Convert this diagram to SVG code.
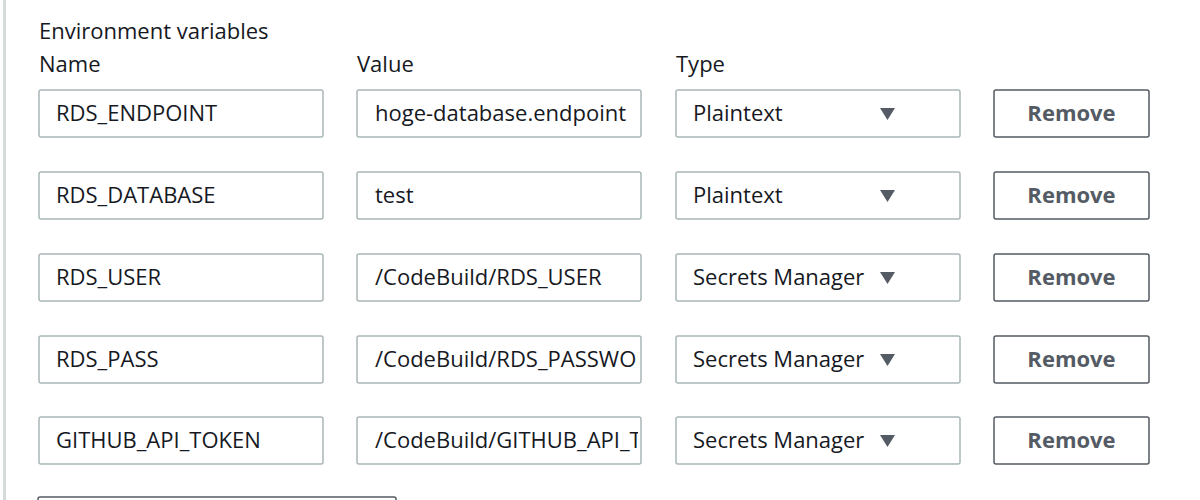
<svg xmlns="http://www.w3.org/2000/svg" width="1200" height="500" viewBox="0 0 1200 500">
<style>
text{font-family:"Open Sans","Noto Sans","Liberation Sans",sans-serif;font-size:22px;fill:#16191f}
.f{fill:#fff;stroke:#aab7b8;stroke-width:1.5}
.b{fill:#fff;stroke:#545b64;stroke-width:1.5}
.bt{font-weight:bold;fill:#545b64;text-anchor:middle}
.tri{fill:#545b64}
</style>
<defs>
<clipPath id="cv"><rect x="358" y="0" width="280" height="500"/></clipPath>
<g id="row">
<rect class="f" x="39" y="0" width="284" height="47" rx="2"/>
<rect class="f" x="357" y="0" width="284" height="47" rx="2"/>
<rect class="f" x="676" y="0" width="284" height="47" rx="2"/>
<path class="tri" d="M880 18 L895 18 L887.5 30 Z"/>
<rect class="b" x="994" y="0" width="155" height="47" rx="2"/>
<text class="bt" x="1071.5" y="31">Remove</text>
</g>
</defs>
<rect x="0" y="0" width="1200" height="500" fill="#fff"/>
<rect x="3" y="0" width="3" height="500" fill="#d5dbdb"/>
<text x="39" y="39">Environment variables</text>
<text x="39" y="72">Name</text>
<text x="357" y="72">Value</text>
<text x="676" y="72">Type</text>
<g id="r1" transform="translate(0,90)"><use href="#row"/><text x="56" y="31">RDS_ENDPOINT</text><g clip-path="url(#cv)"><text x="375" y="31">hoge-database.endpoint</text></g><text x="693" y="31">Plaintext</text></g>
<g id="r2" transform="translate(0,172)"><use href="#row"/><text x="56" y="31">RDS_DATABASE</text><text x="375" y="31">test</text><text x="693" y="31">Plaintext</text></g>
<g id="r3" transform="translate(0,254)"><use href="#row"/><text x="56" y="31">RDS_USER</text><g clip-path="url(#cv)"><text x="375" y="31">/CodeBuild/RDS_USER</text></g><text x="693" y="31">Secrets Manager</text></g>
<g id="r4" transform="translate(0,336)"><use href="#row"/><text x="56" y="31">RDS_PASS</text><g clip-path="url(#cv)"><text x="375" y="31">/CodeBuild/RDS_PASSWORD</text></g><text x="693" y="31">Secrets Manager</text></g>
<g id="r5" transform="translate(0,417)"><use href="#row"/><text x="56" y="31">GITHUB_API_TOKEN</text><g clip-path="url(#cv)"><text x="375" y="31">/CodeBuild/GITHUB_API_TOKEN</text></g><text x="693" y="31">Secrets Manager</text></g>
<rect class="b" x="38" y="497" width="358" height="20" rx="2"/>
<g id="connectors"/>
</svg>
